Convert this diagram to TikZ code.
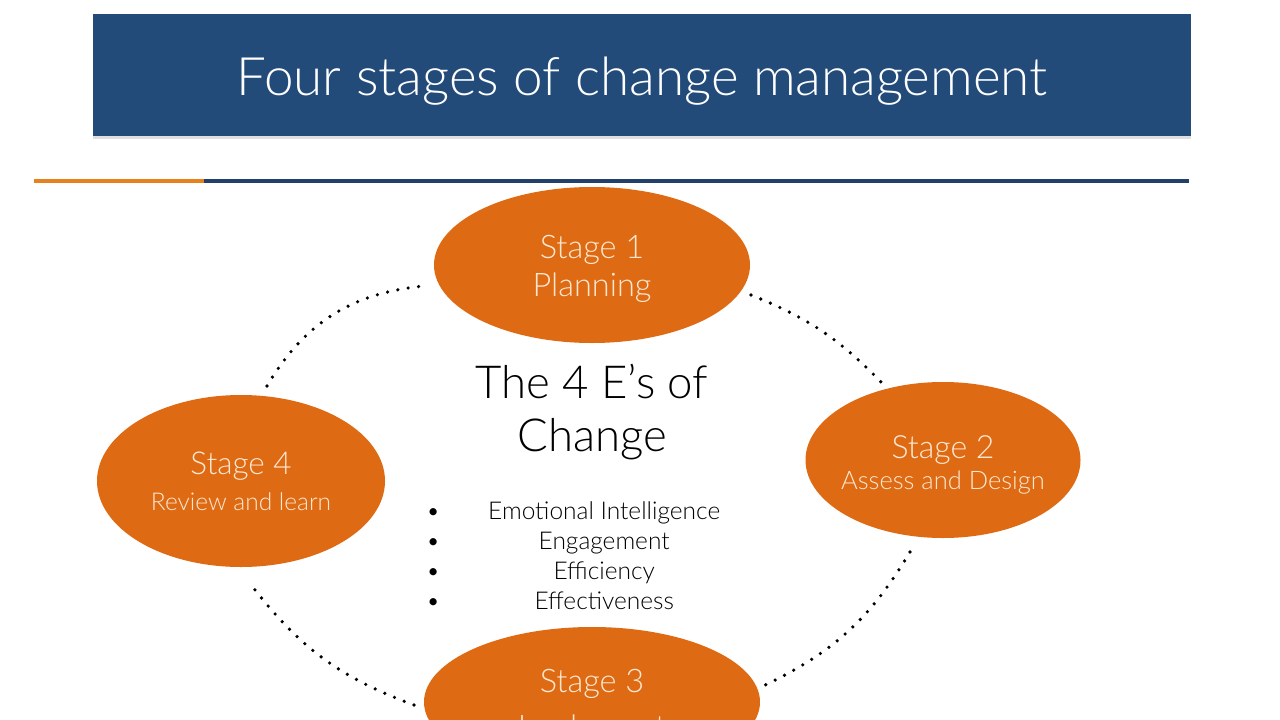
\documentclass[tikz,border=0pt]{standalone}
\usepackage{fontspec}
\setmainfont{Lato Light}
\usetikzlibrary{shapes.geometric,shadows}
\definecolor{titleblue}{HTML}{224B7A}
\definecolor{lineblue}{HTML}{23406A}
\definecolor{lineorange}{HTML}{E5821F}
\definecolor{stageorange}{HTML}{DE6B13}
\definecolor{stagetext}{HTML}{FCE8D2}
\begin{document}
\begin{tikzpicture}[x=1pt,y=-1pt,
  titlebox/.style={fill=titleblue, inner sep=0, minimum width=1098pt, minimum height=122pt,
    drop shadow={opacity=0.25, shadow xshift=0pt, shadow yshift=-3pt}},
  titletext/.style={text=white, inner sep=0, font=\fontsize{53}{60}\selectfont},
  stagebox/.style={ellipse, fill=stageorange, inner sep=0},
  stagelabel/.style={text=stagetext, align=center, inner sep=0},
  dotline/.style={line width=3.6pt, line cap=round, dash pattern=on 0pt off 10.5pt},
  centertitle/.style={align=center, inner sep=0, font=\fontsize{45.5}{53}\selectfont},
]
\useasboundingbox (0,0) rectangle (1280,720);
\fill[white] (0,0) rectangle (1280,720);

\node[titlebox, label={[titletext, yshift=-6pt]center:Four stages of change management}] (title) at (642,75) {};

\coordinate (l0) at (34,181);
\coordinate (l1) at (204,181);
\coordinate (l2) at (1189,181);
\draw[line width=4pt, lineorange] (l0) -- (l1);
\draw[line width=4pt, lineblue] (l1) -- (l2);

\node[stagebox, minimum width=316pt, minimum height=156pt,
  label={[stagelabel, font=\fontsize{32.5}{38}\selectfont, yshift=-3.5pt]center:Stage 1\\Planning}] (s1) at (592,265) {};
\node[stagebox, minimum width=275pt, minimum height=156pt,
  label={[stagelabel, font=\fontsize{32}{31}\selectfont, yshift=-5pt]center:Stage 2\\\fontsize{25.5}{31}\selectfont Assess and Design}] (s2) at (943,460) {};
\node[stagebox, minimum width=336pt, minimum height=150pt,
  label={[stagelabel, font=\fontsize{32.5}{46}\selectfont, yshift=-5pt]center:Stage 3\\Implement}] (s3) at (592,702) {};
\node[stagebox, minimum width=288pt, minimum height=172pt,
  label={[stagelabel, font=\fontsize{31.5}{36}\selectfont]center:Stage 4\\\fontsize{24.5}{36}\selectfont Review and learn}] (s4) at (241,481) {};

\node[centertitle] (etitle) at (592,412) {The 4 E’s of\\Change};

\node[anchor=north west, inner sep=0, font=\fontsize{24.5}{30}\selectfont] (list) at (429,498) {%
  \begin{tabular}{@{}l@{\hspace{44pt}}l@{}}
  \makebox[8pt]{•} & \makebox[246pt][c]{Emotional Intelligence}\\
  \makebox[8pt]{•} & \makebox[246pt][c]{Engagement}\\
  \makebox[8pt]{•} & \makebox[246pt][c]{Efficiency}\\
  \makebox[8pt]{•} & \makebox[246pt][c]{Effectiveness}
  \end{tabular}};

\coordinate (a1) at (267,386);
\coordinate (a2) at (424,286);
\coordinate (b1) at (751,295);
\coordinate (b2) at (882,383);
\coordinate (c1) at (910,552);
\coordinate (c2) at (761,687);
\coordinate (d1) at (414,705);
\coordinate (d2) at (252,586);
\draw[dotline] (a1) to[bend left=27] (a2);
\draw[dotline] (b1) to[bend left=12] (b2);
\draw[dotline] (c1) to[bend left=17] (c2);
\draw[dotline] (d1) to[bend left=16] (d2);
\end{tikzpicture}
\end{document}
